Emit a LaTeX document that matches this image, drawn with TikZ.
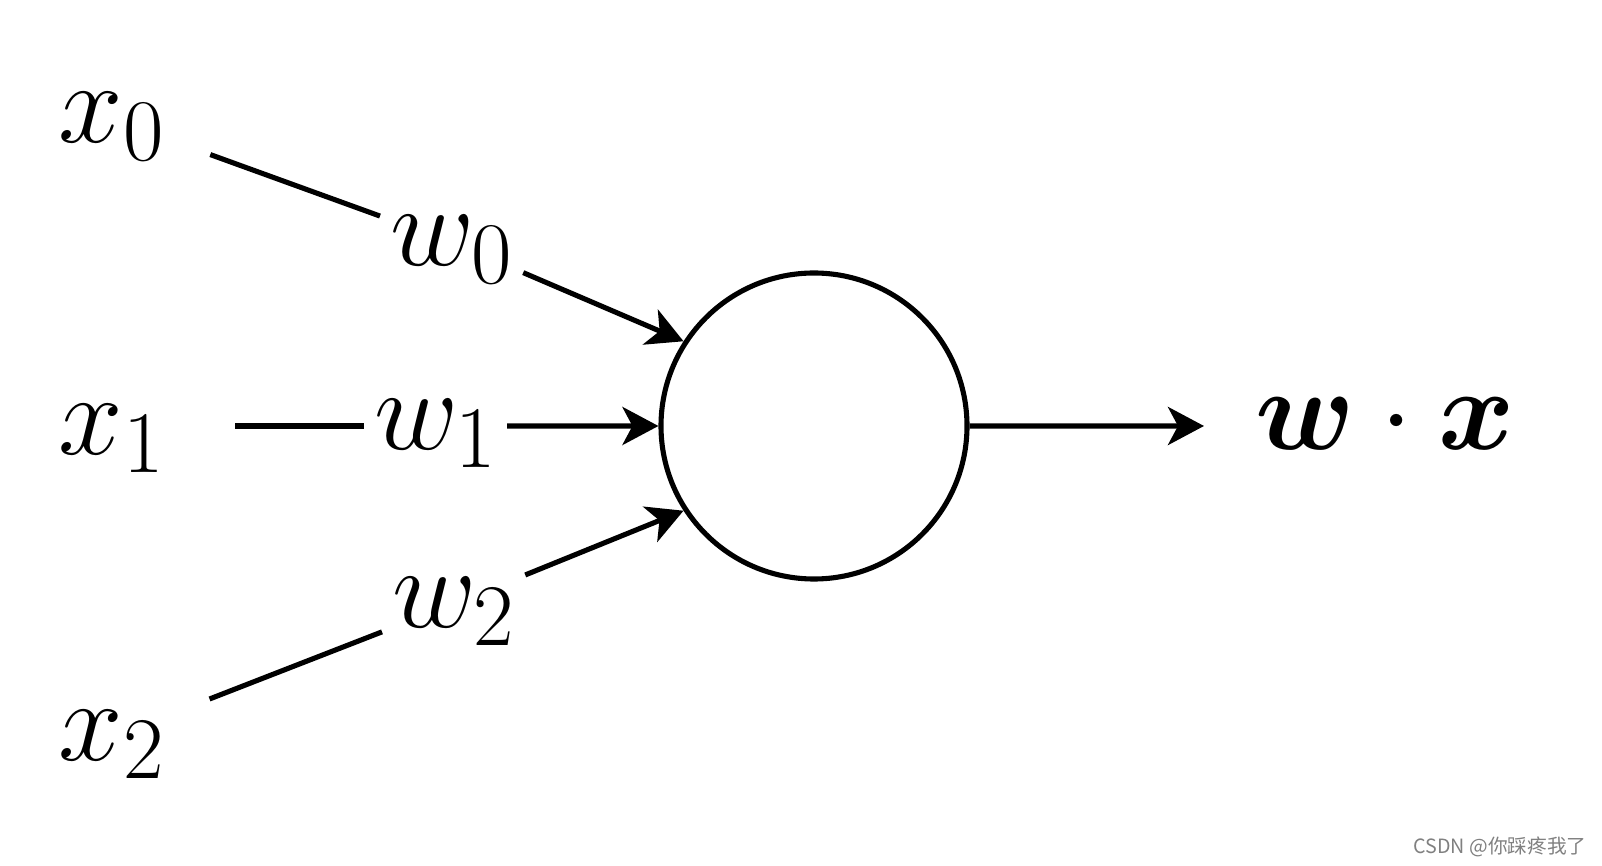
\documentclass[tikz,border=0pt]{standalone}
\usepackage{fix-cm}
\usepackage{amsmath,amssymb}
\usepackage{fontspec}
\newfontfamily\cjkfont{Noto Sans CJK SC}
\DeclareMathSizes{33}{33}{25}{20}
\usepackage{tikz}
\usetikzlibrary{arrows.meta}

\begin{document}
\begin{tikzpicture}[x=1cm, y=1cm, line width=1.45pt, font=\fontsize{33}{40}\selectfont,
  lab/.style={text height=0.62cm, text depth=0.14cm, outer sep=0pt},
  inp/.style={lab, anchor=base, inner ysep=0pt, inner xsep=0.45cm},
  wgt/.style={lab, anchor=base west, inner ysep=0pt, inner xsep=0.1cm},
  unit/.style={draw, circle, minimum size=3.06cm, inner sep=0pt},
  arr/.style={-{Stealth[length=0.36cm, width=0.38cm, inset=0.1cm]}}]
\useasboundingbox (0,0) rectangle (16.02,8.66);
\node[inp] (x0) at (1.12,7.23) {$x_0$};
\node[inp] (x1) at (1.12,4.11) {$x_1$};
\node[inp] (x2) at (1.12,1.05) {$x_2$};
\node[wgt] (w0) at (3.80,6.00) {$w_0$};
\node[wgt] (w1) at (3.64,4.16) {$w_1$};
\node[wgt] (w2) at (3.82,2.38) {$w_2$};
\node[unit] (n) at (8.14,4.40) {};
\node[lab, anchor=base west, inner sep=0pt] (out) at (12.55,4.16) {$\boldsymbol{w}\cdot\boldsymbol{x}$};
\node[anchor=south east, inner sep=0pt, text=gray, font=\cjkfont\fontsize{5.6}{6}\selectfont] (mark) at (15.89,0.07) {CSDN @你踩疼我了};
\draw (x0) -- (w0);
\draw[arr] (w0) -- (n.147);
\draw[shorten <=0.25cm] (x1.east |- w1.west) -- (w1.west);
\draw[arr] (w1) -- (n);
\draw (x2) -- (w2);
\draw[arr] (w2) -- (n.213);
\draw[arr, shorten >=0.51cm] (n) -- (out);
\end{tikzpicture}
\end{document}
